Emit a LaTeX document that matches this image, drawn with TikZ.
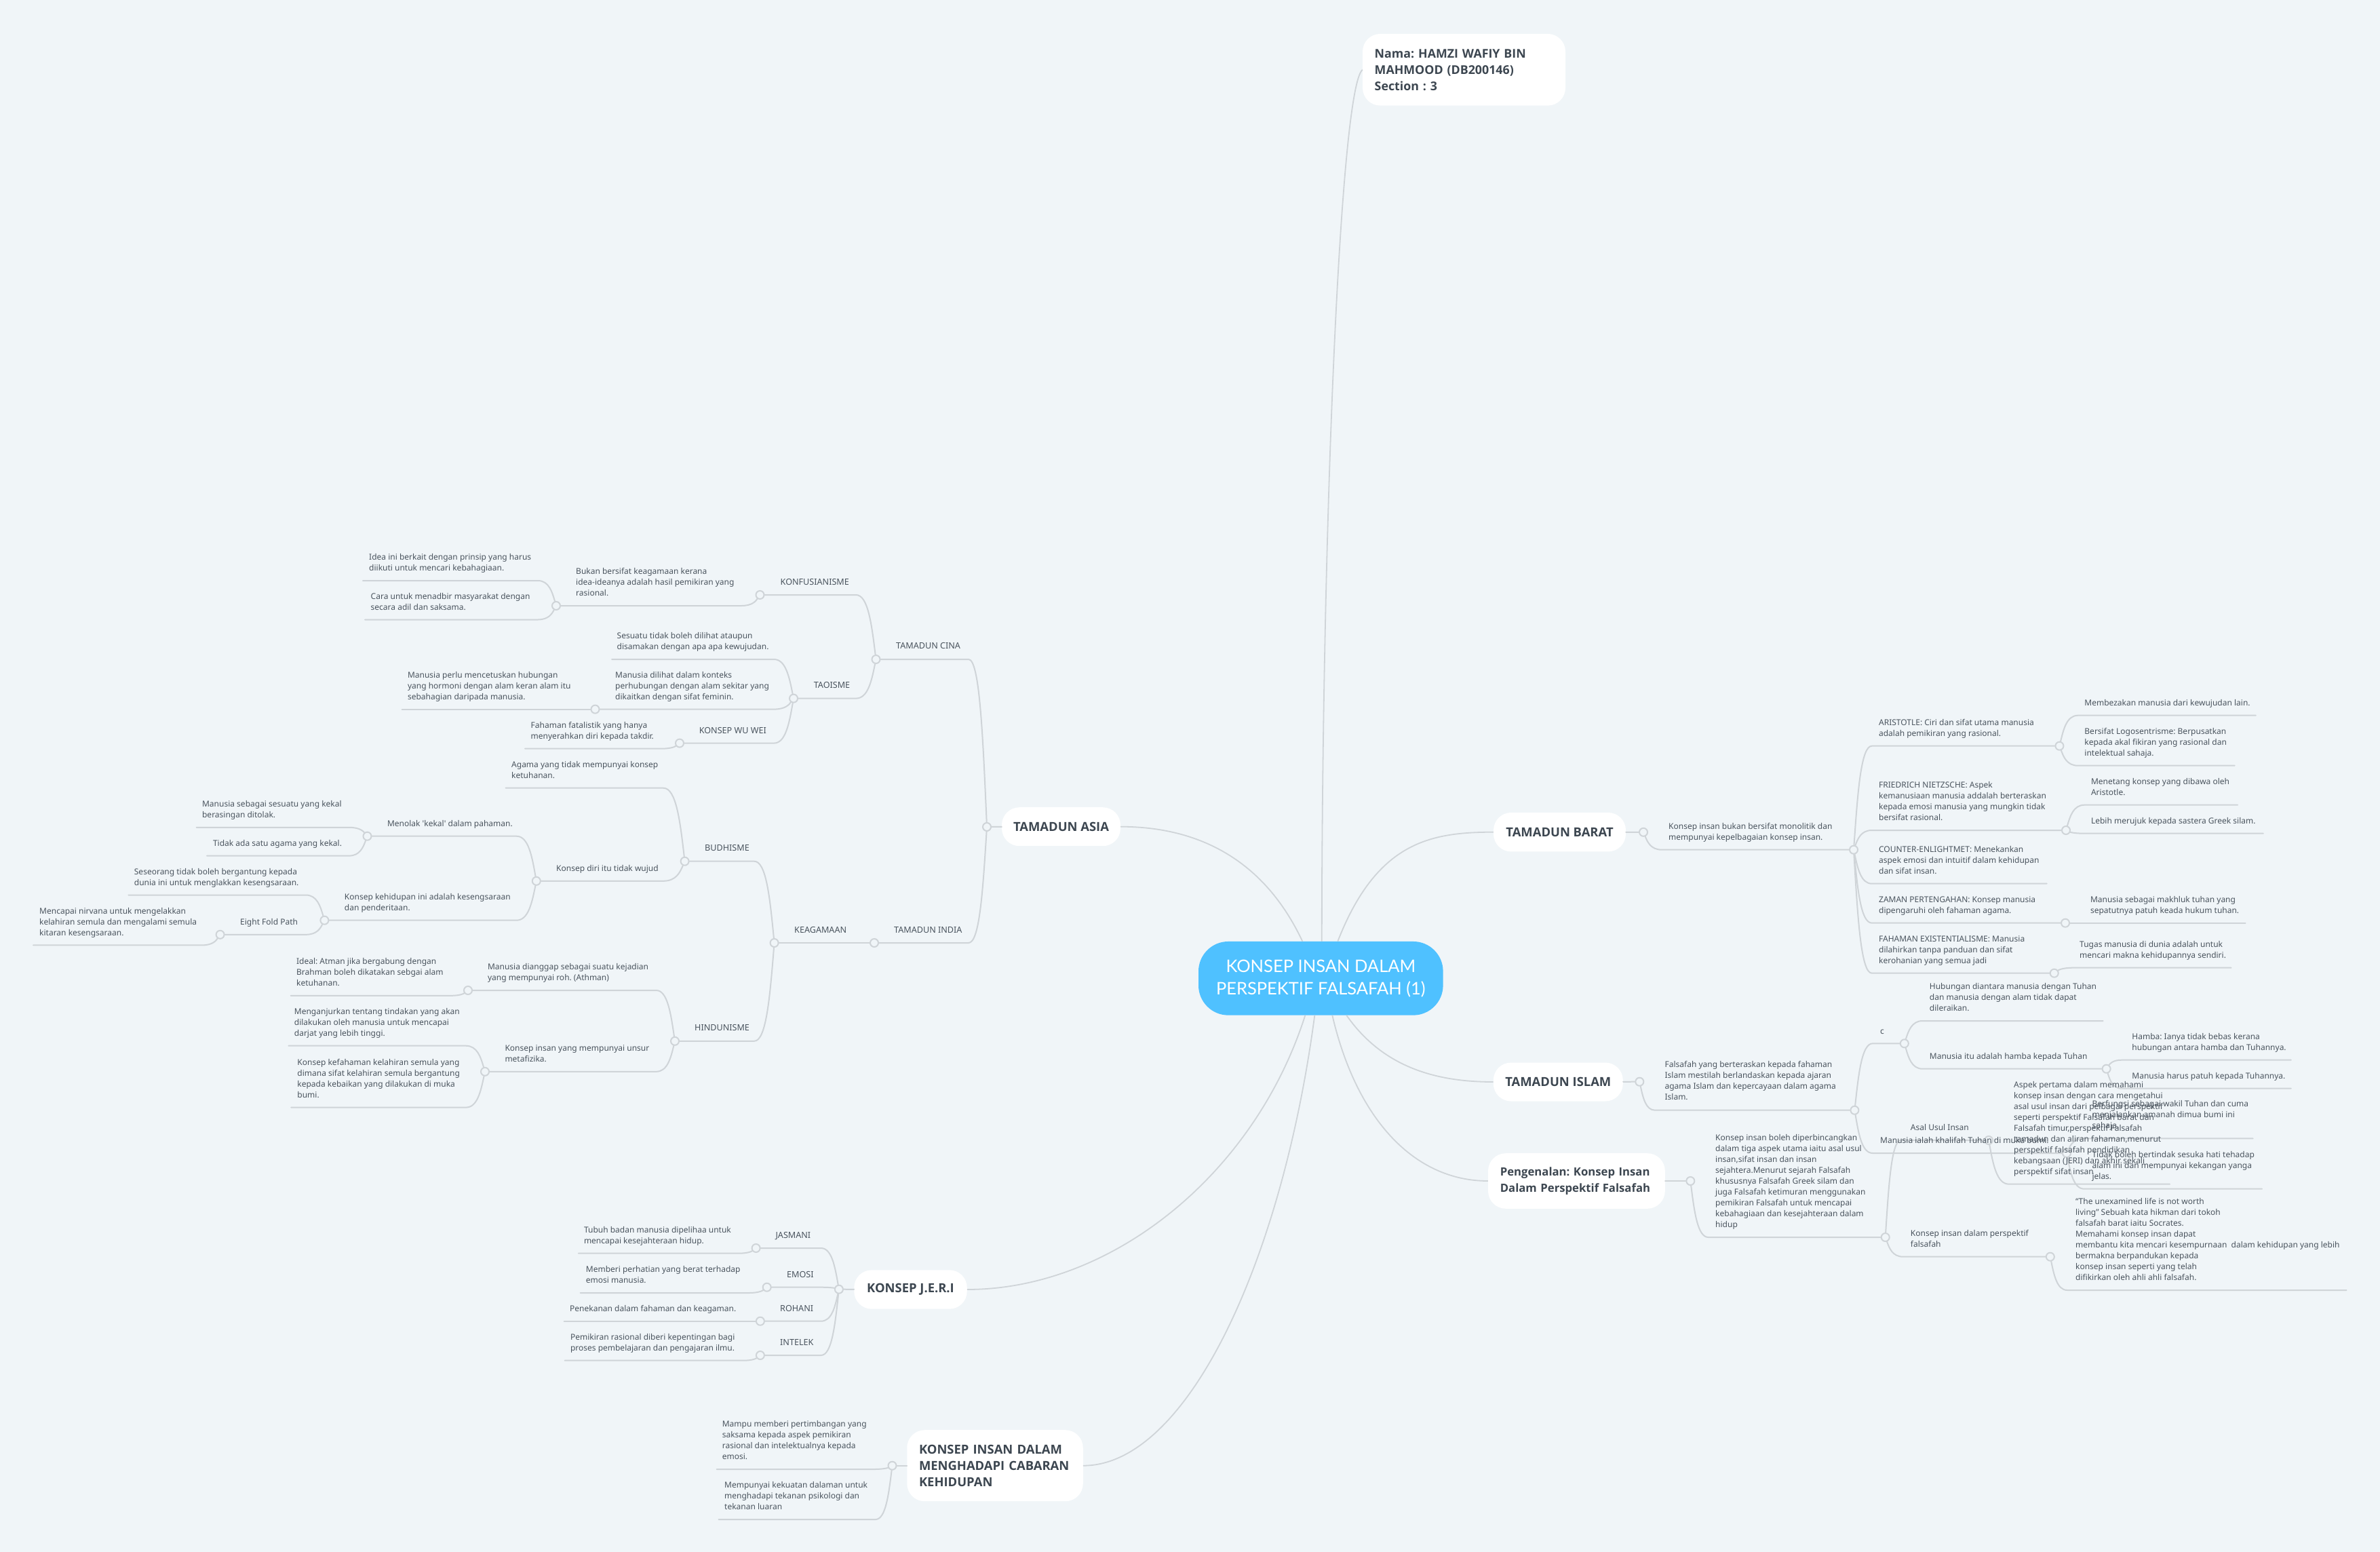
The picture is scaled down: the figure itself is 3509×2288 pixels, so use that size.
\documentclass[tikz,border=0pt]{standalone}
\usepackage{fontspec}
\setmainfont{Noto Sans}
\newfontfamily\latofont{Lato}
\newfontfamily\pillfont{Open Sans}
\frenchspacing
\usetikzlibrary{calc}
\definecolor{bgc}{HTML}{F0F5F8}
\definecolor{linec}{HTML}{CFD4D8}
\definecolor{textc}{HTML}{4A545E}
\definecolor{pillc}{HTML}{3C4650}
\definecolor{cenc}{HTML}{4FC1FF}
\tikzset{
  conn/.style={draw=linec,line width=2pt,line cap=round},
  mainconn/.style={draw=linec,line width=1.8pt},
  dotn/.style={circle,draw=linec,fill=bgc,line width=2pt,minimum size=12pt,inner sep=0pt},
  txt/.style={anchor=south west,inner sep=0pt,yshift=-8.8pt,align=left,text=textc,
    font=\fontsize{12}{16}\selectfont\frenchspacing,execute at end node=\strut},
  capstxt/.style={txt,font=\fontsize{12.6}{16}\selectfont\frenchspacing},
  pill/.style={fill=white,rounded corners=26pt,inner sep=0pt,text=pillc,
    font=\pillfont\fontsize{18.4}{24}\selectfont\bfseries\frenchspacing},
  pillnama/.style={pill,font=\pillfont\fontsize{17.8}{24}\selectfont\bfseries\frenchspacing},
  pillpen/.style={pill,font=\pillfont\fontsize{16.7}{24}\selectfont\bfseries\frenchspacing},
  cen/.style={fill=cenc,rounded corners=44pt,inner sep=0pt,text=white,align=center,
    font=\latofont\fontsize{25.5}{33}\selectfont},
}
\newcommand{\mdot}[3]{\node[dotn] (#1) at (#2,#3) {};}
\newcommand{\mend}[3]{\coordinate (#1) at (#2,#3);}
\newcommand{\lk}[3]{%
  \coordinate (tmpn) at (#3,0 |- #2);
  \coordinate (tmpk) at (#1 |- tmpn);
  \coordinate (tmpc) at ($(tmpk)!.4!(tmpn)$);
  \draw[conn] (#1) .. controls ($(#1)!.55!(tmpc)$) and (tmpc) .. (tmpn) -- (#2);}
\newcommand{\st}[2]{\draw[conn] (#1) -- (#2);}
\newcommand{\tx}[4]{\node[txt] (#1) at (#2,#3) {#4};}
\newcommand{\cx}[4]{\node[capstxt] (#1) at (#2,#3) {#4};}
\begin{document}
\begin{tikzpicture}[x=1pt,y=-1pt]
\useasboundingbox (0,0) rectangle (3509,2288);
\fill[bgc] (0,0) rectangle (3509,2288);

% main nodes
\node[cen,minimum width=360.6pt,minimum height=108.7pt] (root) at (1947.3,1442.3) {KONSEP INSAN DALAM\\PERSPEKTIF FALSAFAH (1)};
\node[pillnama,minimum width=299pt,minimum height=105.7pt,text width=263.6pt,align=left] (nama) at (2158.5,102.8) {Nama: HAMZI WAFIY BIN\\MAHMOOD (DB200146)\\Section : 3};
\node[pill,minimum width=175pt,minimum height=57pt] (pasia) at (1564.5,1218.7) {TAMADUN ASIA};
\node[pill,minimum width=195pt,minimum height=57.5pt] (pbarat) at (2299.5,1226.7) {TAMADUN BARAT};
\node[pill,minimum width=191pt,minimum height=57pt] (pislam) at (2297.3,1595) {TAMADUN ISLAM};
\node[pillpen,minimum width=260.8pt,minimum height=81.6pt,text width=225.2pt,align=left] (ppen) at (2324.4,1741) {\mbox{Pengenalan: Konsep Insan}\\\mbox{Dalam Perspektif Falsafah}};
\node[pill,minimum width=166.5pt,minimum height=57.4pt] (pjeri) at (1342.5,1901) {KONSEP J.E.R.I};
\node[pill,minimum width=259.5pt,minimum height=105pt,text width=224pt,align=left] (pcab) at (1467,2160.7) {KONSEP INSAN DALAM\\MENGHADAPI CABARAN\\KEHIDUPAN};

% main connectors
\draw[mainconn] ($(root.north)+(1.5,0)$) .. controls (1949,800) and (1975,130) .. (nama.west);
\draw[mainconn] ($(root.north)+(25,0)$) .. controls (2030,1240) and (2110,1227) .. (pbarat.west);
\draw[mainconn] ($(root.north)+(-27,0)$) .. controls (1865,1270) and (1770,1218.7) .. (pasia.east);
\draw[mainconn] ($(root.south)+(38,0)$) .. controls (2040,1575) and (2120,1595) .. (pislam.west);
\draw[mainconn] ($(root.south)+(17,0)$) .. controls (2000,1650) and (2085,1741) .. (ppen.west);
\draw[mainconn] ($(root.south)+(-23,0)$) .. controls (1850,1730) and (1640,1901) .. (pjeri.east);
\draw[mainconn] ($(root.south)+(-9,0)$) .. controls (1890,1860) and (1750,2160.7) .. (pcab.east);

% dots
\mdot{asia}{1455}{1219}
\mdot{cina}{1291.5}{972}
\mdot{india}{1289}{1390}
\mdot{keag}{1141.6}{1390}
\mdot{konf}{1120.5}{877}
\mdot{buk}{820}{893}
\mdot{tao}{1170}{1029.6}
\mdot{lih}{877.5}{1045.6}
\mdot{wu}{1002}{1095.6}
\mdot{bud}{1009.6}{1269.7}
\mdot{hin}{995}{1534.8}
\mdot{diri}{790.8}{1298.8}
\mdot{men}{541.5}{1232.7}
\mdot{keh}{478.4}{1356.7}
\mdot{eight}{324.6}{1377.8}
\mdot{dian}{690}{1460}
\mdot{unsur}{715}{1579.8}
\mdot{bar}{2423}{1226.8}
\mdot{kbi}{2733}{1252.7}
\mdot{ari}{3036.4}{1099.7}
\mdot{nie}{3046}{1224}
\mdot{zam}{3045}{1360.7}
\mdot{fah}{3028.7}{1434.7}
\mdot{isl}{2417.3}{1594.7}
\mdot{fal}{2734.4}{1636.7}
\mdot{cc}{2807.8}{1538.3}
\mdot{ham}{3105.6}{1575.7}
\mdot{kha}{3047}{1700}
\mdot{pen}{2492.3}{1741}
\mdot{kib}{2779.7}{1824}
\mdot{asal}{2932}{1681}
\mdot{kdp}{3022.8}{1852.7}
\mdot{jeri}{1236.9}{1900.7}
\mdot{jas}{1114.6}{1840}
\mdot{emo}{1130.7}{1897.7}
\mdot{roh}{1120.9}{1947.7}
\mdot{inte}{1120.9}{1998}
\mdot{cab}{1315.5}{2160.7}

% line ends
\mend{eidea}{535}{856}
\mend{ecara}{538}{913.5}
\mend{esesu}{902}{972}
\mend{eperlu}{592.5}{1045.6}
\mend{efat}{774}{1103.7}
\mend{eagama}{745.5}{1161.7}
\mend{ekekal}{289.6}{1219.8}
\mend{etidak}{304.9}{1261.6}
\mend{eseo}{189.4}{1319.5}
\mend{enirv}{49}{1393.4}
\mend{eideal}{428.6}{1467.8}
\mend{emeng}{425.4}{1541.7}
\mend{ekef}{429.2}{1632.6}
\mend{emem}{3325.8}{1054.7}
\mend{elogo}{3294.7}{1128.7}
\mend{ement}{3299}{1186.7}
\mend{elebi}{3336.8}{1228.7}
\mend{ecoun}{3017.7}{1302.7}
\mend{emakh}{3310.5}{1360.7}
\mend{etug}{3289.5}{1426.7}
\mend{ehub}{3100.5}{1505}
\mend{ehamb}{3377.9}{1562.7}
\mend{epat}{3377.9}{1604.7}
\mend{ewak}{3321.7}{1678.3}
\mend{ebol}{3335}{1752.7}
\mend{easp}{3199}{1745.7}
\mend{esoc}{3459.5}{1902}
\mend{etub}{852.8}{1847.7}
\mend{emb}{855.7}{1906}
\mend{epek}{831.6}{1947.7}
\mend{erasi}{832.7}{2005.7}
\mend{emam}{1056.6}{2166}
\mend{elua}{1059.5}{2240}

% connectors
\st{pasia}{asia}
\st{pbarat}{bar}
\st{pislam}{isl}
\st{ppen}{pen}
\st{pjeri}{jeri}
\st{pcab}{cab}

\lk{asia}{cina}{1428}
\lk{asia}{india}{1428}
\st{india}{keag}
\lk{cina}{konf}{1262}
\lk{konf}{buk}{1093}
\lk{buk}{eidea}{793}
\lk{buk}{ecara}{793}
\lk{cina}{tao}{1262}
\lk{tao}{esesu}{1141}
\lk{tao}{lih}{1141}
\st{lih}{eperlu}
\lk{tao}{wu}{1141}
\lk{wu}{efat}{975}
\lk{keag}{bud}{1112}
\lk{keag}{hin}{1112}
\lk{bud}{eagama}{978}
\lk{bud}{diri}{978}
\lk{diri}{men}{761.5}
\lk{diri}{keh}{761.5}
\lk{men}{ekekal}{514.7}
\lk{men}{etidak}{514.7}
\lk{keh}{eseo}{451}
\lk{keh}{eight}{451}
\lk{eight}{enirv}{297.9}
\lk{hin}{dian}{967.5}
\lk{dian}{eideal}{664.6}
\lk{hin}{unsur}{967.5}
\lk{unsur}{emeng}{686.9}
\lk{unsur}{ekef}{686.9}

\lk{bar}{kbi}{2450}
\lk{kbi}{ari}{2759.8}
\lk{ari}{emem}{3063.6}
\lk{ari}{elogo}{3063.6}
\lk{kbi}{nie}{2759.8}
\lk{nie}{ement}{3073.2}
\lk{nie}{elebi}{3073.2}
\lk{kbi}{ecoun}{2759.8}
\lk{kbi}{zam}{2759.8}
\st{zam}{emakh}
\lk{kbi}{fah}{2759.8}
\lk{fah}{etug}{3056.5}

\lk{isl}{fal}{2440}
\lk{fal}{cc}{2761}
\lk{cc}{ehub}{2834.5}
\lk{cc}{ham}{2834.5}
\lk{ham}{ehamb}{3128}
\lk{ham}{epat}{3128}
\lk{fal}{kha}{2761}
\lk{kha}{ewak}{3073}
\lk{kha}{ebol}{3073}

\lk{pen}{kib}{2518.7}
\lk{kib}{asal}{2802.6}
\lk{asal}{easp}{2962}
\lk{kib}{kdp}{2805.8}
\lk{kdp}{esoc}{3047.9}

\lk{jeri}{jas}{1210.4}
\lk{jas}{etub}{1088.7}
\lk{jeri}{emo}{1210.4}
\lk{emo}{emb}{1104}
\lk{jeri}{roh}{1210.4}
\st{roh}{epek}
\lk{jeri}{inte}{1210.4}
\lk{inte}{erasi}{1095.6}

\lk{cab}{emam}{1288}
\lk{cab}{elua}{1290.8}

% texts
\cx{t1}{1321}{953}{TAMADUN CINA}
\cx{t2}{1318}{1371.5}{TAMADUN INDIA}
\cx{t3}{1171}{1371.5}{KEAGAMAAN}
\cx{t4}{1150.5}{858.6}{KONFUSIANISME}
\tx{t5}{849}{874.6}{Bukan bersifat keagamaan kerana\\idea-ideanya adalah hasil pemikiran yang\\rasional.}
\tx{t6}{544}{837.6}{Idea ini berkait dengan prinsip yang harus\\diikuti untuk mencari kebahagiaan.}
\tx{t7}{546.5}{895.6}{Cara untuk menadbir masyarakat dengan\\secara adil dan saksama.}
\cx{t8}{1199.6}{1011}{TAOISME}
\tx{t9}{909.5}{953.7}{Sesuatu tidak boleh dilihat ataupun\\disamakan dengan apa apa kewujudan.}
\tx{t10}{907}{1027.8}{Manusia dilihat dalam konteks\\perhubungan dengan alam sekitar yang\\dikaitkan dengan sifat feminin.}
\tx{t11}{600.8}{1027.8}{Manusia perlu mencetuskan hubungan\\yang hormoni dengan alam keran alam itu\\sebahagian daripada manusia.}
\cx{t12}{1030.6}{1077.3}{KONSEP WU WEI}
\tx{t13}{782.5}{1085.8}{Fahaman fatalistik yang hanya\\menyerahkan diri kepada takdir.}
\cx{t14}{1039}{1251}{BUDHISME}
\cx{t15}{1024}{1515.5}{HINDUNISME}
\tx{t16}{754}{1143.8}{Agama yang tidak mempunyai konsep\\ketuhanan.}
\tx{t17}{820}{1280.5}{Konsep diri itu tidak wujud}
\tx{t18}{570.8}{1214.4}{Menolak \textquotesingle kekal\textquotesingle{} dalam pahaman.}
\tx{t19}{507.7}{1338.5}{Konsep kehidupan ini adalah kesengsaraan\\dan penderitaan.}
\tx{t20}{297.9}{1201.5}{Manusia sebagai sesuatu yang kekal\\berasingan ditolak.}
\tx{t21}{313.8}{1243.7}{Tidak ada satu agama yang kekal.}
\tx{t22}{197.7}{1301.6}{Seseorang tidak boleh bergantung kepada\\dunia ini untuk menglakkan kesengsaraan.}
\tx{t23}{354}{1359.4}{Eight Fold Path}
\tx{t24}{58}{1375.5}{Mencapai nirvana untuk mengelakkan\\kelahiran semula dan mengalami semula\\kitaran kesengsaraan.}
\tx{t25}{718.8}{1441.6}{Manusia dianggap sebagai suatu kejadian\\yang mempunyai roh. (Athman)}
\tx{t26}{436.9}{1449.4}{Ideal: Atman jika bergabung dengan\\Brahman boleh dikatakan sebgai alam\\ketuhanan.}
\tx{t27}{744.3}{1561.9}{Konsep insan yang mempunyai unsur\\metafizika.}
\tx{t28}{433.7}{1523.8}{Menganjurkan tentang tindakan yang akan\\dilakukan oleh manusia untuk mencapai\\darjat yang lebih tinggi.}
\tx{t29}{438.2}{1614.2}{Konsep kefahaman kelahiran semula yang\\dimana sifat kelahiran semula bergantung\\kepada kebaikan yang dilakukan di muka\\bumi.}

\tx{t30}{2460}{1234.2}{Konsep insan bukan bersifat monolitik dan\\mempunyai kepelbagaian konsep insan.}
\tx{t31}{2769.9}{1081.7}{ARISTOTLE: Ciri dan sifat utama manusia\\adalah pemikiran yang rasional.}
\tx{t32}{3073.2}{1036.3}{Membezakan manusia dari kewujudan lain.}
\tx{t33}{3073.2}{1110.7}{Bersifat Logosentrisme: Berpusatkan\\kepada akal fikiran yang rasional dan\\intelektual sahaja.}
\tx{t34}{2769.9}{1205.7}{FRIEDRICH NIETZSCHE: Aspek\\kemanusiaan manusia addalah berteraskan\\kepada emosi manusia yang mungkin tidak\\bersifat rasional.}
\tx{t35}{3082.8}{1169}{Menetang konsep yang dibawa oleh\\Aristotle.}
\tx{t36}{3082.8}{1210.7}{Lebih merujuk kepada sastera Greek silam.}
\tx{t37}{2769.9}{1285}{COUNTER-ENLIGHTMET: Menekankan\\aspek emosi dan intuitif dalam kehidupan\\dan sifat insan.}
\tx{t38}{2769.9}{1342.7}{ZAMAN PERTENGAHAN: Konsep manusia\\dipengaruhi oleh fahaman agama.}
\tx{t39}{3081.8}{1342.7}{Manusia sebagai makhluk tuhan yang\\sepatutnya patuh keada hukum tuhan.}
\tx{t40}{2769.9}{1416.7}{FAHAMAN EXISTENTIALISME: Manusia\\dilahirkan tanpa panduan dan sifat\\kerohanian yang semua jadi}
\tx{t41}{3066}{1408.7}{Tugas manusia di dunia adalah untuk\\mencari makna kehidupannya sendiri.}

\tx{t42}{2454.4}{1617.7}{Falsafah yang berteraskan kepada fahaman\\Islam mestilah berlandaskan kepada ajaran\\agama Islam dan kepercayaan dalam agama\\Islam.}
\tx{t43}{2772}{1521}{c}
\tx{t44}{2844.7}{1487}{Hubungan diantara manusia dengan Tuhan\\dan manusia dengan alam tidak dapat\\dileraikan.}
\tx{t45}{2844.7}{1557.3}{Manusia itu adalah hamba kepada Tuhan}
\tx{t46}{3143.2}{1545}{Hamba: Ianya tidak bebas kerana\\hubungan antara hamba dan Tuhannya.}
\tx{t47}{3143.2}{1586.7}{Manusia harus patuh kepada Tuhannya.}
\tx{t48}{2772}{1682}{Manusia ialah khalifah Tuhan di muka bumi.}
\tx{t49}{3084.3}{1660}{Berfungsi sebagai wakil Tuhan dan cuma\\menjalankan amanah dimua bumi ini\\sahaja.}
\tx{t50}{3084.3}{1734.7}{Tidak boleh bertindak sesuka hati tehadap\\alam ini dan mempunyai kekangan yanga\\jelas.}
\tx{t51}{2529}{1805.4}{Konsep insan boleh diperbincangkan\\dalam tiga aspek utama iaitu asal usul\\insan,sifat insan dan insan\\sejahtera.Menurut sejarah Falsafah\\khususnya Falsafah Greek silam dan\\juga Falsafah ketimuran menggunakan\\pemikiran Falsafah untuk mencapai\\kebahagiaan dan kesejahteraan dalam\\hidup}
\tx{t52}{2816.7}{1662.3}{Asal Usul Insan}
\tx{t53}{2969}{1727.7}{Aspek pertama dalam memahami\\konsep insan dengan cara mengetahui\\asal usul insan dari pelbagai perspektif\\seperti perspektif Falsafah barat dan\\Falsafah timur,perspektif Falsafah\\tamadun dan aliran fahaman,menurut\\perspektif falsafah pendidikan\\kebangsaan (JERI) dan akhir sekali\\perspektif sifat insan}
\tx{t54}{2816.7}{1834.7}{Konsep insan dalam perspektif\\falsafah}
\tx{t55}{3059.9}{1883.3}{“The unexamined life is not worth\\living” Sebuah kata hikman dari tokoh\\falsafah barat iaitu Socrates.\\Memahami konsep insan dapat\\membantu kita mencari kesempurnaan~ dalam kehidupan yang lebih\\bermakna berpandukan kepada\\konsep insan seperti yang telah\\difikirkan oleh ahli ahli falsafah.}

\cx{t56}{1143.3}{1821.3}{JASMANI}
\tx{t57}{860.8}{1829.7}{Tubuh badan manusia dipelihaa untuk\\mencapai kesejahteraan hidup.}
\cx{t58}{1160}{1879.3}{EMOSI}
\tx{t59}{863.7}{1887.7}{Memberi perhatian yang berat terhadap\\emosi manusia.}
\cx{t60}{1150}{1929.7}{ROHANI}
\tx{t61}{840}{1929.7}{Penekanan dalam fahaman dan keagaman.}
\cx{t62}{1150}{1979.3}{INTELEK}
\tx{t63}{840.8}{1987.7}{Pemikiran rasional diberi kepentingan bagi\\proses pembelajaran dan pengajaran ilmu.}
\tx{t64}{1064.6}{2147.7}{Mampu memberi pertimbangan yang\\saksama kepada aspek pemikiran\\rasional dan intelektualnya kepada\\emosi.}
\tx{t65}{1068}{2221.7}{Mempunyai kekuatan dalaman untuk\\menghadapi tekanan psikologi dan\\tekanan luaran}
\end{tikzpicture}
\end{document}
